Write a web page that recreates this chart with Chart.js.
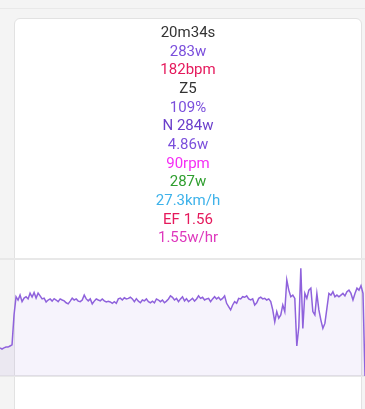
<!DOCTYPE html>
<html>
<head>
<meta charset="utf-8">
<script src="https://cdn.jsdelivr.net/npm/chart.js@4/dist/chart.umd.min.js"></script>
<style>
  html, body { margin: 0; padding: 0; }
  body { width: 365px; height: 409px; overflow: hidden; background: #f4f4f4; position: relative; font-family: Roboto, "Noto Sans", sans-serif; }
  #topline { position: absolute; left: 0; top: 8px; width: 365px; height: 1px; background: #e9e9e9; }
  #card { position: absolute; left: 14px; top: 18px; width: 346px; height: 440px; background: #fff; border: 1px solid #e2e2e2; border-radius: 6px; }
  #c { position: absolute; left: 0; top: 0; }
  #stats { position: absolute; left: 14px; top: 23px; width: 348px; text-align: center; font-size: 15px; line-height: 18.65px; }
</style>
</head>
<body>
<div id="topline"></div>
<div id="card"></div>
<canvas id="c" width="365" height="409"></canvas>
<div id="stats"></div>
<script>
// ---- data ----
const statLines = ["20m34s", "283w", "182bpm", "Z5", "109%", "N 284w", "4.86w", "90rpm", "287w", "27.3km/h", "EF 1.56", "1.55w/hr"];
const powerWatts = [
  102, 98, 102, 105, 105, 109, 113, 222, 288, 276,
  294, 270, 283, 288, 280, 301, 287, 303, 283, 301,
  291, 280, 283, 269, 276, 280, 272, 281, 276, 270,
  280, 276, 273, 266, 262, 272, 283, 276, 280, 272,
  270, 276, 294, 280, 273, 280, 262, 272, 280, 276,
  273, 280, 273, 269, 271, 269, 264, 270, 264, 280,
  283, 276, 284, 280, 282, 286, 280, 270, 281, 272,
  266, 276, 273, 280, 270, 266, 272, 266, 280, 276,
  270, 276, 266, 272, 280, 291, 286, 276, 282, 270,
  280, 288, 273, 281, 270, 276, 282, 272, 280, 291,
  282, 286, 276, 280, 282, 270, 280, 288, 280, 286,
  276, 282, 291, 264, 252, 240, 258, 270, 264, 282,
  280, 288, 286, 291, 280, 276, 280, 258, 266, 282,
  286, 280, 282, 276, 280, 270, 240, 197, 234, 210,
  222, 258, 234, 349, 312, 288, 294, 282, 109, 179,
  391, 173, 300, 282, 312, 319, 234, 222, 300, 240,
  203, 173, 191, 246, 300, 294, 306, 288, 294, 288,
  294, 300, 291, 306, 312, 300, 276, 300, 319, 312,
  328, 300, 0
];
const sampleLabels = powerWatts.map((_, i) => String(i));

// ---- styles ----
const statColors = ["#333333", "#7b4fdc", "#e5195c", "#333333", "#7b4fdc", "#6b3fcb", "#7b4fdc", "#f52ef5", "#2f9e2f", "#3db2ea", "#e5195c", "#de38bd"];

const statsEl = document.getElementById('stats');
statLines.forEach((t, i) => {
  const d = document.createElement('div');
  d.textContent = t;
  d.style.color = statColors[i];
  statsEl.appendChild(d);
});

new Chart(document.getElementById('c'), {
  type: 'line',
  data: {
    labels: sampleLabels,
    datasets: [{
      data: powerWatts,
      borderColor: '#8f62dc',
      borderWidth: 1.5,
      backgroundColor: 'rgba(140, 100, 220, 0.08)',
      fill: 'origin',
      pointRadius: 0,
      tension: 0
    }]
  },
  options: {
    responsive: false,
    animation: false,
    layout: { padding: { top: 259, bottom: 33, left: 0, right: 0 } },
    plugins: { legend: { display: false }, tooltip: { enabled: false }, title: { display: false } },
    scales: {
      x: { display: false, offset: false },
      y: {
        min: 0, max: 425,
        ticks: { display: false, stepSize: 425 },
        border: { display: false },
        grid: { color: '#e8e8e8', lineWidth: 2, drawTicks: false }
      }
    }
  }
});
</script>
</body>
</html>
